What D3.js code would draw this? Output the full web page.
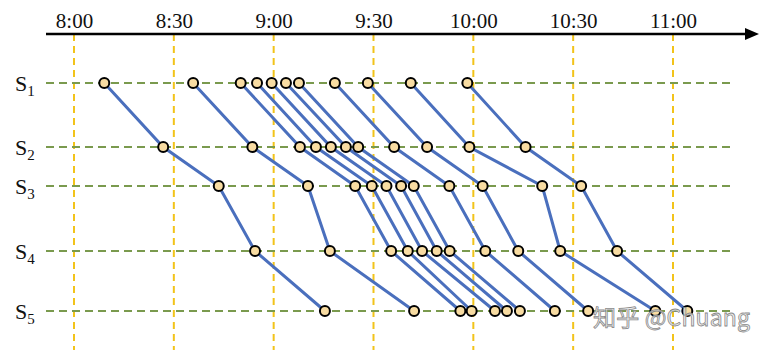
<!DOCTYPE html>
<html>
<head>
<meta charset="utf-8">
<script src="https://cdn.jsdelivr.net/npm/d3@7"></script>
<style>
  body { margin: 0; background: #fff; }
  svg { display: block; }
</style>
</head>
<body>
<div id="chart"></div>
<script>
// 시각 축 (8:00 기준 분)
const tickMinutes = [0, 30, 60, 90, 120, 150, 180];
const tickLabels = ["8:00", "8:30", "9:00", "9:30", "10:00", "10:30", "11:00"];

// 역 이름과 위치(거리)
const stations = ["1", "2", "3", "4", "5"];
const stationDist = [0, 6.4, 10.3, 16.8, 22.8];

// 각 역의 열차 통과 시각 (8:00 이후 분)
const s1Times = [9.1, 35.8, 50.1, 55.0, 59.4, 63.7, 67.6, 78.4, 88.3, 101.2, 118.2];
const s2Times = [26.8, 53.6, 67.9, 72.7, 77.2, 81.7, 85.4, 96.2, 106.1, 118.8, 135.7];
const s3Times = [43.5, 70.3, 84.5, 89.5, 93.9, 98.3, 102.1, 112.8, 122.8, 140.7, 152.4];
const s4Times = [54.4, 76.9, 95.3, 100.3, 104.6, 109.0, 112.9, 123.6, 133.5, 146.1, 163.2];
const s5Times = [75.4, 102.2, 116.1, 119.5, 126.5, 130.1, 134.0, 144.5, 154.5, 174.7, 184.3];

const stationTimes = [s1Times, s2Times, s3Times, s4Times, s5Times];

const width = 771, height = 350;

const svg = d3.select("#chart").append("svg")
    .attr("width", width)
    .attr("height", height);

const x = d3.scaleLinear().domain([0, 180]).range([74, 673]);
const y = d3.scaleLinear().domain([0, 22.8]).range([83, 311]);

const axisY = 34;

// 세로 시각 격자 (노란 점선)
svg.append("g").selectAll("line")
    .data(tickMinutes)
    .enter().append("line")
      .attr("x1", d => x(d)).attr("x2", d => x(d))
      .attr("y1", axisY).attr("y2", height)
      .attr("stroke", "#f2c31a")
      .attr("stroke-width", 2)
      .attr("stroke-dasharray", "7,5");

// 역 가로선 (녹색 점선)
svg.append("g").selectAll("line")
    .data(stationDist)
    .enter().append("line")
      .attr("x1", 46).attr("x2", 730)
      .attr("y1", d => y(d)).attr("y2", d => y(d))
      .attr("stroke", "#7a9a4e")
      .attr("stroke-width", 2)
      .attr("stroke-dasharray", "8,5");

// 역 라벨
const lab = svg.append("g").selectAll("text")
    .data(stations)
    .enter().append("text")
      .attr("x", 15)
      .attr("y", (d, i) => y(stationDist[i]) + 8)
      .style("font-family", "'Liberation Serif', 'Times New Roman', serif")
      .style("font-size", "22px")
      .attr("fill", "#111");
lab.append("tspan").text("S");
lab.append("tspan")
    .attr("dy", 5)
    .style("font-size", "15px")
    .text(d => d);

// 시간축
const axis = svg.append("g").attr("transform", `translate(0,${axisY})`)
    .call(d3.axisTop(x).tickValues(tickMinutes).tickSize(0).tickPadding(6)
        .tickFormat((d, i) => tickLabels[i]));
axis.select(".domain").remove();
axis.selectAll("text")
    .style("font-family", "'Liberation Serif', 'Times New Roman', serif")
    .style("font-size", "21px")
    .attr("fill", "#111");

svg.append("line")
    .attr("x1", 46).attr("x2", 748)
    .attr("y1", axisY).attr("y2", axisY)
    .attr("stroke", "#000")
    .attr("stroke-width", 2.5);
svg.append("path")
    .attr("d", `M745,${axisY - 6}L759,${axisY}L745,${axisY + 6}Z`)
    .attr("fill", "#000");

// 열차 운행선
const trains = d3.range(s1Times.length).map(k =>
    stationTimes.map((times, i) => ({t: times[k], d: stationDist[i]})));

const line = d3.line().x(p => x(p.t)).y(p => y(p.d));

svg.append("g").selectAll("path")
    .data(trains)
    .enter().append("path")
      .attr("d", line)
      .attr("fill", "none")
      .attr("stroke", "#4a6fbd")
      .attr("stroke-width", 3);

// 정차점
svg.append("g").selectAll("circle")
    .data(trains.flat())
    .enter().append("circle")
      .attr("cx", p => x(p.t))
      .attr("cy", p => y(p.d))
      .attr("r", 5)
      .attr("fill", "#f8dca2")
      .attr("stroke", "#000")
      .attr("stroke-width", 2);

// 워터마크
svg.append("text")
    .attr("x", 593)
    .attr("y", 326)
    .attr("textLength", 157)
    .style("font-family", "'Noto Sans CJK SC', 'Noto Sans', sans-serif")
    .style("font-size", "23px")
    .attr("fill", "#eeeeee")
    .attr("fill-opacity", 0.8)
    .attr("stroke", "#8a8a8a")
    .attr("stroke-width", 0.8)
    .text("知乎 @Chuang");
</script>
</body>
</html>
